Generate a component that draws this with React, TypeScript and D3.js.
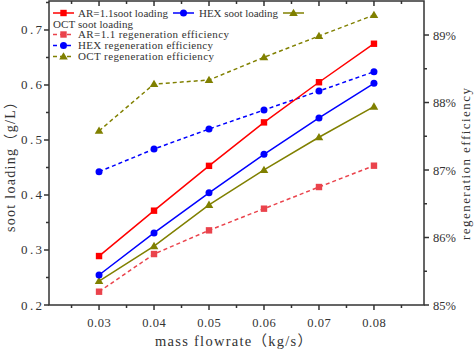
import { useEffect, useRef } from "react";
import * as d3 from "d3";

// mass flowrate (kg/s)
const flowrates = [0.03, 0.04, 0.05, 0.06, 0.07, 0.08];

// soot loading (g/L), left axis
const arSoot = [0.289, 0.3715, 0.453, 0.532, 0.605, 0.675];
const hexSoot = [0.2545, 0.331, 0.404, 0.474, 0.54, 0.603];
const octSoot = [0.2436, 0.307, 0.382, 0.4455, 0.505, 0.5606];

// regeneration efficiency (%), right axis
const arRegen = [85.197, 85.755, 86.106, 86.427, 86.748, 87.064];
const hexRegen = [86.975, 87.311, 87.607, 87.889, 88.17, 88.456];
const octRegen = [87.58, 88.274, 88.333, 88.67, 88.985, 89.296];

const leftTicks = [0.2, 0.3, 0.4, 0.5, 0.6, 0.7];
const rightTicks = [85, 86, 87, 88, 89];

const SERIF = "'Liberation Serif', 'Noto Sans CJK SC', serif";
const AXIS = "#333";

type Marker = "square" | "circle" | "triangle";

export default function App() {
    const ref = useRef<SVGSVGElement>(null);

    useEffect(() => {
        if (!ref.current) return;
        const svg = d3.select(ref.current);
        svg.selectAll("*").remove();

        const left = 49, right = 424, top = 1, bottom = 305;

        const x = d3.scaleLinear().domain([0.0209, 0.0891]).range([left, right]);
        const yL = d3.scaleLinear().domain([0.2, 0.7527]).range([bottom, top]);
        const yR = d3.scaleLinear().domain([85, 89.504]).range([bottom, top]);

        const drawMarker = (g: any, kind: Marker, cx: number, cy: number, color: string) => {
            if (kind === "square") {
                g.append("rect").attr("x", cx - 3.2).attr("y", cy - 3.2)
                    .attr("width", 6.4).attr("height", 6.4).attr("fill", color);
            } else if (kind === "circle") {
                g.append("circle").attr("cx", cx).attr("cy", cy).attr("r", 3.5).attr("fill", color);
            } else {
                g.append("path")
                    .attr("d", `M${cx},${cy - 4.3}L${cx + 4.3},${cy + 3}L${cx - 4.3},${cy + 3}Z`)
                    .attr("fill", color);
            }
        };

        // text helper: serif glyphs spread to the width seen in the reference
        const addText = (g: any, str: string, size: number, width: number) =>
            g.append("text")
                .attr("font-family", SERIF)
                .attr("font-size", size)
                .attr("fill", AXIS)
                .attr("textLength", width)
                .attr("lengthAdjust", "spacing")
                .text(str);

        const series = [
            { vals: arRegen, y: yR, color: "#ea434c", dash: "4,3", marker: "square" as Marker },
            { vals: hexRegen, y: yR, color: "#0000ff", dash: "4,3", marker: "circle" as Marker },
            { vals: octRegen, y: yR, color: "#808000", dash: "4,3", marker: "triangle" as Marker },
            { vals: octSoot, y: yL, color: "#808000", dash: null, marker: "triangle" as Marker },
            { vals: hexSoot, y: yL, color: "#0000ff", dash: null, marker: "circle" as Marker },
            { vals: arSoot, y: yL, color: "#ff0000", dash: null, marker: "square" as Marker },
        ];

        const plot = svg.append("g");
        series.forEach((s) => {
            const line = d3.line<number>()
                .x((d, i) => x(flowrates[i]))
                .y((d) => s.y(d));
            plot.append("path")
                .datum(s.vals)
                .attr("d", line)
                .attr("fill", "none")
                .attr("stroke", s.color)
                .attr("stroke-width", 1.5)
                .attr("stroke-dasharray", s.dash ?? null);
            s.vals.forEach((v, i) => drawMarker(plot, s.marker, x(flowrates[i]), s.y(v), s.color));
        });

        // frame
        const frame = svg.append("g").attr("stroke", AXIS).attr("stroke-width", 1.5);
        frame.append("rect").attr("x", left).attr("y", top)
            .attr("width", right - left).attr("height", bottom - top).attr("fill", "none");

        const xMinor = d3.range(0.025, 0.0891, 0.01);
        flowrates.forEach((v) => {
            frame.append("line").attr("x1", x(v)).attr("x2", x(v)).attr("y1", bottom).attr("y2", bottom + 5);
            frame.append("line").attr("x1", x(v)).attr("x2", x(v)).attr("y1", top).attr("y2", top + 5);
        });
        xMinor.forEach((v) => {
            frame.append("line").attr("x1", x(v)).attr("x2", x(v)).attr("y1", bottom).attr("y2", bottom + 3);
            frame.append("line").attr("x1", x(v)).attr("x2", x(v)).attr("y1", top).attr("y2", top + 3);
        });
        leftTicks.forEach((v) => {
            frame.append("line").attr("x1", left - 5).attr("x2", left).attr("y1", yL(v)).attr("y2", yL(v));
        });
        d3.range(0.25, 0.76, 0.1).forEach((v) => {
            frame.append("line").attr("x1", left - 3).attr("x2", left).attr("y1", yL(v)).attr("y2", yL(v));
        });
        rightTicks.forEach((v) => {
            frame.append("line").attr("x1", right).attr("x2", right + 5).attr("y1", yR(v)).attr("y2", yR(v));
        });
        d3.range(85.5, 89.5, 1).forEach((v) => {
            frame.append("line").attr("x1", right).attr("x2", right + 3).attr("y1", yR(v)).attr("y2", yR(v));
        });

        // tick labels
        const labels = svg.append("g");
        flowrates.forEach((v) => {
            addText(labels, v.toFixed(2), 12.5, 23.5)
                .attr("x", x(v) - 11.75).attr("y", 327);
        });
        leftTicks.forEach((v) => {
            addText(labels, v.toFixed(1), 13, 21)
                .attr("x", 21).attr("y", yL(v) + 4.5);
        });
        rightTicks.forEach((v) => {
            labels.append("text").attr("x", 433).attr("y", yR(v) + 4.5)
                .attr("font-family", SERIF).attr("font-size", 12.5).attr("fill", AXIS)
                .text(`${v}%`);
        });

        // axis titles
        addText(labels, "mass flowrate（kg/s）", 14.5, 157).attr("x", 155).attr("y", 346);
        addText(labels, "soot loading（g/L）", 14, 137)
            .attr("transform", "translate(15,232) rotate(-90)");
        addText(labels, "regeneration efficiency", 13, 152)
            .attr("transform", "translate(470,240) rotate(-90)");

        // legend
        const legend = svg.append("g");
        const legendItems = [
            { label: "AR=1.1soot loading", w: 90, color: "#ff0000", dash: null, marker: "square" as Marker, sx: 53, tx: 78, y: 13 },
            { label: "HEX soot loading", w: 79, color: "#0000ff", dash: null, marker: "circle" as Marker, sx: 173, tx: 199, y: 13 },
            { label: "", w: 0, color: "#808000", dash: null, marker: "triangle" as Marker, sx: 283, tx: 0, y: 13 },
            { label: "AR=1.1 regeneration efficiency", w: 151, color: "#ea434c", dash: "4,3", marker: "square" as Marker, sx: 53, tx: 78, y: 34.5 },
            { label: "HEX regeneration efficiency", w: 135, color: "#0000ff", dash: "4,3", marker: "circle" as Marker, sx: 53, tx: 78, y: 45.5 },
            { label: "OCT regeneration efficiency", w: 136, color: "#808000", dash: "4,3", marker: "triangle" as Marker, sx: 53, tx: 78, y: 56.5 },
        ];
        legendItems.forEach((d) => {
            legend.append("line").attr("x1", d.sx).attr("x2", d.sx + 21).attr("y1", d.y).attr("y2", d.y)
                .attr("stroke", d.color).attr("stroke-width", 1.5)
                .attr("stroke-dasharray", d.dash ?? null);
            drawMarker(legend, d.marker, d.sx + 10.5, d.y, d.color);
            if (d.label) {
                addText(legend, d.label, 11, d.w).attr("x", d.tx).attr("y", d.y + 3.5);
            }
        });
        addText(legend, "OCT soot loading", 11, 80).attr("x", 53).attr("y", 27.5);
    }, []);

    return (
        <svg
            ref={ref}
            width={474}
            height={351}
            style={{ position: "absolute", left: 0, top: 0, background: "#fff" }}
        />
    );
}
